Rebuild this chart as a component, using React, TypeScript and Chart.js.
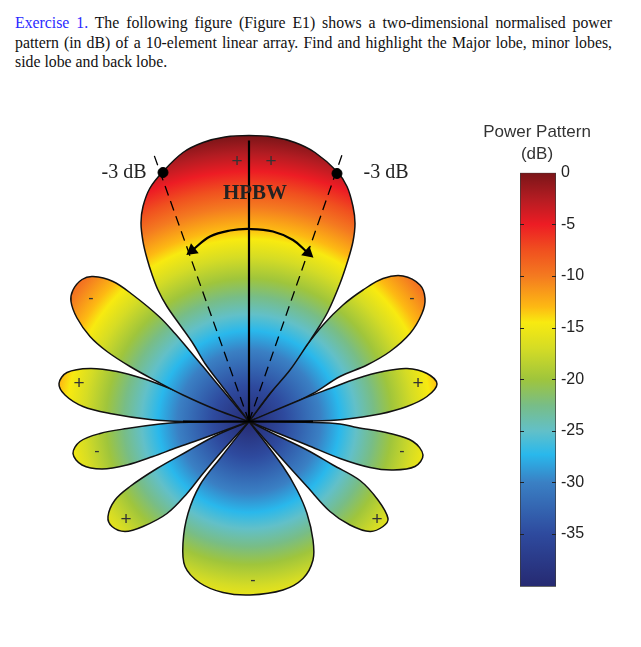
import React, { useEffect, useRef } from "react";
import { Chart, registerables } from "chart.js";

Chart.register(...registerables);

type P = { x: number; y: number };
const p = (pairs: number[][]): P[] => [{ x: 0, y: 0 }, ...pairs.map(([x, y]) => ({ x, y })), { x: 0, y: 0 }];

const paragraphLines = [
  "The following figure (Figure E1) shows a two-dimensional normalised power",
  "pattern (in dB) of a 10-element linear array. Find and highlight the Major lobe, minor lobes,",
  "side lobe and back lobe.",
];

const levelDb = [0, -2.5, -5, -7.5, -10, -13, -14.5, -17, -20, -22.5, -25, -27.3, -30, -35, -40];
const levelColor = ["#7a1518", "#b31c22", "#ed1c24", "#f0501f", "#f47a20", "#fdb913", "#f8ea10", "#d5dc25", "#9fc53c", "#78bd86", "#62c0c8", "#29b8ec", "#3a80c4", "#2e4a9e", "#262a72"];
const colorbarTicks = [0, -5, -10, -15, -20, -25, -30, -35];

const mainLobe = [[-29,38],[-44,58],[-56,78],[-69,96.5],[-82,115],[-91,131.5],[-97,147],[-102,163],[-106,180],[-108,198.5],[-106,215],[-99,233.5],[-86,250],[-66,269],[-46,279],[-24,284.5],[0,286],[24,284.5],[46,279],[66,269],[88,250],[98,235],[104,215],[106,198],[104,180],[99,161.5],[91,138],[79,110],[68,91.5],[58,76.5],[41,51.5],[21,28]];
const upperLeftLobe = [[-32,38],[-46,55],[-60,71.5],[-74,88],[-90,105],[-116,126.5],[-136,140],[-156,145],[-167,142],[-176,131.5],[-178,120],[-172,103.5],[-159,85],[-142,70],[-119,55],[-92,40],[-66,26.5],[-32,11.5]];
const midLeftLobe = [[-52,21.5],[-79,33],[-106,43],[-132,50],[-159,53],[-182,49],[-190,38],[-184,26.5],[-166,15],[-139,8],[-99,2],[-66,0]];
const lowerMidLeftLobe = [[-69,-1],[-89,-2.5],[-122,-7],[-149,-12],[-169,-20],[-176,-32],[-167,-43.5],[-147,-47.5],[-122,-43.5],[-96,-35],[-72,-26],[-49,-18]];
const lowerLeftLobe = [[-32,-13.5],[-62,-30],[-92,-47],[-119,-65],[-134,-78.5],[-141,-95],[-137,-105],[-124,-110],[-106,-105],[-82,-92],[-62,-72],[-46,-52],[-26,-28.5]];
const backLobe = [[-29,-37],[-49,-63.5],[-61,-92],[-66,-121.5],[-64,-145],[-49,-161.5],[-26,-171],[1,-173.5],[34,-168.5],[54,-157],[64,-138.5],[64,-118.5],[58,-92],[48,-68.5],[34,-45]];
const lowerRightLobe = [[34,-38.5],[58,-65],[81,-90],[101,-103.5],[121,-110],[134,-105],[139,-97],[129,-78.5],[111,-59],[84,-43.5],[58,-28.5],[24,-12]];
const lowerMidRightLobe = [[58,-23.5],[91,-37],[121,-46],[144,-48.5],[166,-45],[174,-33.5],[164,-20],[141,-12],[108,-6],[91,-2.5],[64,-1]];
const midRightLobe = [[64,0.5],[94,2],[131,7.5],[158,15],[178,25],[188,37.5],[178,48],[158,53],[134,50],[108,43],[81,33],[51,21.5]];
const upperRightLobe = [[34,13.5],[64,28],[91,45],[118,56.5],[141,70],[161,88],[173,108],[176,123],[171,136.5],[154,145.5],[134,143],[114,131.5],[94,116.5],[74,96.5],[54,71.5],[34,45]];
const lobes = [mainLobe, upperLeftLobe, midLeftLobe, lowerMidLeftLobe, lowerLeftLobe, backLobe, lowerRightLobe, lowerMidRightLobe, midRightLobe, upperRightLobe];

const boresight: P[] = [{ x: 0, y: 0 }, { x: 0, y: 281 }];
const horizonLeft: P[] = [{ x: 0, y: 0 }, { x: -66, y: 0 }];
const horizonRight: P[] = [{ x: 0, y: 0 }, { x: 64, y: 0 }];
const hpbwLeft: P[] = [{ x: 0, y: 0 }, { x: -95.5, y: 268 }];
const hpbwRight: P[] = [{ x: 0, y: 0 }, { x: 93.5, y: 268 }];
const halfPowerPoints: P[] = [{ x: -86, y: 249 }, { x: 88, y: 248 }];
const hpbwArc: P[] = [{ x: -57, y: 171 }, { x: -39, y: 185 }, { x: -19, y: 191 }, { x: 1, y: 192.5 }, { x: 24, y: 190 }, { x: 44, y: 181.5 }, { x: 59, y: 168.5 }];
const plusMarks: P[] = [{ x: -12, y: 260 }, { x: 22, y: 260 }, { x: -170, y: 37.5 }, { x: 169, y: 37.5 }, { x: -123, y: -98 }, { x: 128, y: -98 }];
const minusMarks: P[] = [{ x: -158, y: 123 }, { x: 163, y: 123 }, { x: -152, y: -30 }, { x: 153, y: -30 }, { x: 4, y: -159 }];
const textNotes = [
  { text: "-3 dB", x: -125, y: 248.5, font: "20px 'Liberation Serif'" },
  { text: "-3 dB", x: 137, y: 248.5, font: "20px 'Liberation Serif'" },
  { text: "HPBW", x: 6, y: 228, font: "bold 21px 'Liberation Serif'" },
];

const fillStops = (g: CanvasGradient, toOffset: (db: number) => number) => {
  levelDb.forEach((db, i) => g.addColorStop(toOffset(db), levelColor[i]));
  return g;
};

const patternNotes = {
  id: "patternNotes",
  afterDatasetsDraw(chart: any) {
    const { ctx, scales } = chart;
    ctx.save();
    ctx.textAlign = "center";
    ctx.textBaseline = "middle";
    ctx.fillStyle = "#222";
    textNotes.forEach((n) => {
      ctx.font = n.font;
      ctx.fillText(n.text, scales.x.getPixelForValue(n.x), scales.y.getPixelForValue(n.y));
    });
    ctx.fillStyle = "#333";
    ctx.font = "19px 'Liberation Sans'";
    plusMarks.forEach((m) => ctx.fillText("+", scales.x.getPixelForValue(m.x), scales.y.getPixelForValue(m.y)));
    ctx.font = "16px 'Liberation Sans'";
    minusMarks.forEach((m) => ctx.fillText("-", scales.x.getPixelForValue(m.x), scales.y.getPixelForValue(m.y)));
    ctx.restore();
  },
};

const barTicks = {
  id: "barTicks",
  afterDatasetsDraw(chart: any) {
    const { ctx, chartArea, scales } = chart;
    ctx.save();
    ctx.strokeStyle = "#222";
    ctx.lineWidth = 1;
    colorbarTicks.slice(1).forEach((v) => {
      const y = Math.round(scales.y.getPixelForValue(v)) + 0.5;
      ctx.beginPath();
      ctx.moveTo(chartArea.left, y);
      ctx.lineTo(chartArea.left + 4, y);
      ctx.moveTo(chartArea.right - 4, y);
      ctx.lineTo(chartArea.right, y);
      ctx.stroke();
    });
    ctx.restore();
  },
};

export default function App() {
  const patternRef = useRef<HTMLCanvasElement>(null);
  const barRef = useRef<HTMLCanvasElement>(null);

  useEffect(() => {
    const radial = (c: any) => {
      const { chart } = c;
      const sx = chart.scales.x;
      const sy = chart.scales.y;
      if (!sx || !sy) return "#ccc";
      const cx = sx.getPixelForValue(0);
      const cy = sy.getPixelForValue(0);
      const r = Math.abs(sy.getPixelForValue(286) - cy);
      if (![cx, cy, r].every(Number.isFinite)) return "#ccc";
      return fillStops(chart.ctx.createRadialGradient(cx, cy, 0, cx, cy, r), (db) => (db + 40) / 40);
    };
    const thick = (data: P[], width: number, order: number, extra: any = {}) => ({
      data, showLine: true, pointRadius: 0, borderColor: "#000", borderWidth: width, fill: false, order, ...extra,
    });
    const pattern = new Chart(patternRef.current!, {
      type: "scatter",
      data: {
        datasets: [
          ...lobes.map((l) => ({
            data: p(l), showLine: true, tension: 0.35, pointRadius: 0, borderColor: "#111", borderWidth: 1.5,
            backgroundColor: radial, fill: "shape", order: 10,
          })),
          thick(horizonLeft, 2, 5),
          thick(horizonRight, 2, 5),
          thick(boresight, 2.2, 4),
          thick(hpbwLeft, 1.3, 3, { borderDash: [10, 6] }),
          thick(hpbwRight, 1.3, 3, { borderDash: [10, 6] }),
          thick(hpbwArc, 2.2, 2, {
            tension: 0.4,
            pointStyle: "triangle",
            pointRadius: (c: any) => (c.dataIndex === 0 || c.dataIndex === hpbwArc.length - 1 ? 5 : 0),
            pointRotation: (c: any) => (c.dataIndex === 0 ? 232 : 131),
            pointBackgroundColor: "#000",
            pointBorderColor: "#000",
          }),
          { data: halfPowerPoints, pointRadius: 5, pointBackgroundColor: "#000", pointBorderColor: "#000", order: 1 },
        ] as any,
      },
      options: {
        responsive: false,
        animation: false,
        layout: { padding: 0, autoPadding: false },
        plugins: { legend: { display: false }, tooltip: { enabled: false } },
        scales: {
          x: { type: "linear", min: -249, max: 392, display: false },
          y: { type: "linear", min: -225.5, max: 421.5, display: false },
        },
      } as any,
      plugins: [patternNotes],
    });

    const bar = new Chart(barRef.current!, {
      type: "bar",
      data: {
        labels: ["Power Pattern"],
        datasets: [{
          data: [[-40.1, 0]] as any,
          yAxisID: "y",
          barPercentage: 1,
          categoryPercentage: 1,
          borderWidth: 1,
          borderColor: "#3a3a3a",
          borderSkipped: false,
          backgroundColor: (c: any) => {
            const sy = c.chart.scales.y;
            if (!sy) return "#ccc";
            const y0 = sy.getPixelForValue(-40);
            const y1 = sy.getPixelForValue(0);
            if (![y0, y1].every(Number.isFinite)) return "#ccc";
            return fillStops(c.chart.ctx.createLinearGradient(0, y0, 0, y1), (db) => (db + 40) / 40);
          },
        }],
      },
      options: {
        responsive: false,
        animation: false,
        layout: { padding: { left: 0, right: 0, top: 0, bottom: 18.3 }, autoPadding: false },
        plugins: {
          legend: { display: false },
          tooltip: { enabled: false },
          title: {
            display: true,
            text: ["Power Pattern", "(dB)"],
            color: "#333",
            font: { family: "'Liberation Sans'", size: 17, weight: "normal", lineHeight: 1.3 },
            padding: { top: 6, bottom: 7.5 },
          },
        },
        scales: {
          x: { display: false },
          spacer: {
            type: "linear",
            position: "left",
            ticks: { display: false },
            grid: { display: false, drawTicks: false },
            border: { display: false },
            afterFit: (s: any) => { s.width = 87; },
          },
          y: {
            position: "right",
            min: -40.1,
            max: 0,
            grid: { display: false, drawTicks: false },
            border: { display: false },
            afterBuildTicks: (s: any) => { s.ticks = colorbarTicks.map((value) => ({ value })); },
            afterFit: (s: any) => { s.width = 85; },
            ticks: {
              padding: 5,
              color: "#222",
              autoSkip: false,
              font: { family: "'Liberation Sans'", size: 16 },
              callback: (v: any) => String(v),
            },
          },
        },
      } as any,
      plugins: [barTicks],
    });
    return () => {
      pattern.destroy();
      bar.destroy();
    };
  }, []);

  const lineStyle = (top: number, last: "justify" | "left"): React.CSSProperties => ({
    position: "absolute", left: 15, top, width: 597, height: 20, lineHeight: "20px",
    fontFamily: "'Liberation Serif', serif", fontSize: 15.8, color: "#111",
    textAlign: "justify", textAlignLast: last, whiteSpace: "nowrap",
  });

  return (
    <div style={{ position: "absolute", left: 0, top: 0, width: 641, height: 647, overflow: "hidden", background: "#fff" }}>
      <div style={lineStyle(13, "justify")}>
        <span style={{ color: "#2a2aff" }}>Exercise 1.</span> {paragraphLines[0]}
      </div>
      <div style={lineStyle(33, "justify")}>{paragraphLines[1]}</div>
      <div style={lineStyle(52, "left")}>{paragraphLines[2]}</div>
      <canvas ref={patternRef} width={641} height={647} style={{ position: "absolute", left: 0, top: 0, display: "block" }} />
      <canvas ref={barRef} width={208} height={490} style={{ position: "absolute", left: 433, top: 115, display: "block" }} />
    </div>
  );
}
